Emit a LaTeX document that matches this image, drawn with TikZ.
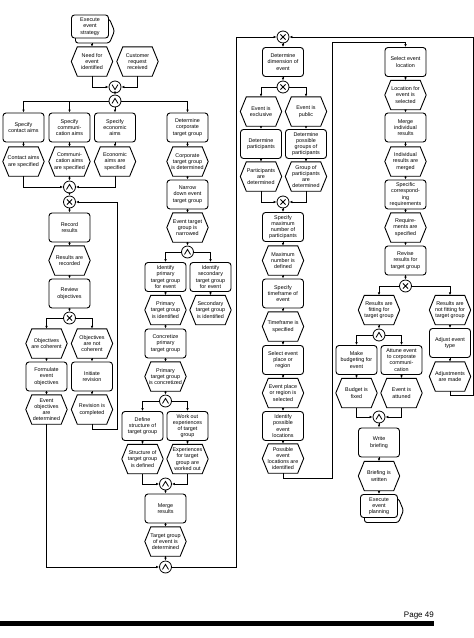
\documentclass[tikz,border=0pt]{standalone}
\usepackage{fontspec}
\setmainfont{Liberation Sans}
\usetikzlibrary{arrows.meta}
\tikzset{
  txt/.style={font=\fontsize{5.4}{6.2}\selectfont, align=center, inner sep=0.5pt},
  fnbox/.style={txt, draw, line width=0.9pt, rounded corners=3pt, minimum width=41pt, minimum height=29pt, fill=white},
  evbox/.style={txt, minimum width=41pt, minimum height=29pt},
  evline/.style={draw, line width=0.9pt, line join=miter, fill=white},
  conn/.style={circle, draw, line width=0.8pt, minimum size=12pt, inner sep=0pt, fill=white},
  andc/.style={conn, path picture={\draw[line width=0.8pt] ([shift={(-3pt,-2.4pt)}]path picture bounding box.center) -- ([shift={(0pt,2.6pt)}]path picture bounding box.center) -- ([shift={(3pt,-2.4pt)}]path picture bounding box.center);}},
  orc/.style={conn, path picture={\draw[line width=0.8pt] ([shift={(-3pt,2.4pt)}]path picture bounding box.center) -- ([shift={(0pt,-2.6pt)}]path picture bounding box.center) -- ([shift={(3pt,2.4pt)}]path picture bounding box.center);}},
  xorc/.style={conn, path picture={\draw[line width=0.8pt] ([shift={(-2.6pt,-2.6pt)}]path picture bounding box.center) -- ([shift={(2.6pt,2.6pt)}]path picture bounding box.center) ([shift={(-2.6pt,2.6pt)}]path picture bounding box.center) -- ([shift={(2.6pt,-2.6pt)}]path picture bounding box.center);}},
  flow/.style={line width=0.6pt, -{Latex[length=3pt,width=2.6pt]}},
}
\newcommand\FnNode[3]{\node[fnbox] (#1) at (#2) {#3};}
\newcommand\EvNode[3]{\node[evbox] (#1) at (#2) {};
  \draw[evline] (#1.west) -- ([xshift=6pt]#1.north west) -- ([xshift=-6pt]#1.north east) -- (#1.east) -- ([xshift=-6pt]#1.south east) -- ([xshift=6pt]#1.south west) -- cycle;
  \node[txt] at (#1.center) {#3};}
\newcommand\PPNode[3]{\coordinate (#1-c) at (#2);
  \draw[fill=white, line width=0.9pt, rounded corners=2.5pt] ([shift={(-14.5pt,7.5pt)}]#1-c) -- ([shift={(19.5pt,7.5pt)}]#1-c) -- ([shift={(24.5pt,-4.5pt)}]#1-c) -- ([shift={(19.5pt,-16.5pt)}]#1-c) -- ([shift={(-14.5pt,-16.5pt)}]#1-c) -- cycle;
  \coordinate (#1-b) at ([shift={(0pt,-16.5pt)}]#1-c);
  \node[fnbox, minimum width=37pt, minimum height=23pt] (#1) at (#2) {#3};}
\begin{document}
\begin{tikzpicture}[x=1pt,y=-1pt]
\useasboundingbox (0,0) rectangle (474,638);
% ---------- column 1 ----------
\PPNode{ees}{90,26.5}{Execute\\event\\strategy}
\EvNode{nfe}{92,61.5}{Need for\\event\\identified}
\EvNode{crr}{137.5,61.5}{Customer\\request\\received}
\node[orc] (or1) at (115,87) {};
\node[andc] (and1) at (115,101) {};
\FnNode{sca}{23.5,127.5}{Specify\\contact aims}
\FnNode{scm}{69.5,127.5}{Specify\\communi-\\cation aims}
\FnNode{sea}{115,127.5}{Specify\\economic\\aims}
\FnNode{dct}{187.5,127.5}{Determine\\corporate\\target group}
\EvNode{cas}{23.5,161.5}{Contact aims\\are specified}
\EvNode{cms}{69.5,161.5}{Communi-\\cation aims\\are specified}
\EvNode{eas}{115,161.5}{Economic\\aims are\\specified}
\EvNode{ctd}{187.5,161.5}{Corporate\\target group\\is determined}
\node[andc] (and2) at (69.5,187) {};
\node[xorc] (xor1) at (69.5,202) {};
\FnNode{rr}{69.5,227.5}{Record\\results}
\EvNode{rar}{69.5,260.5}{Results are\\recorded}
\FnNode{ro}{69.5,293.5}{Review\\objectives}
\node[xorc] (xor2) at (69.5,318) {};
\EvNode{oc}{46.5,343.5}{Objectives\\are coherent}
\EvNode{onc}{92,343.5}{Objectives\\are not\\coherent}
\FnNode{feo}{46.5,376.5}{Formulate\\event\\objectives}
\FnNode{ir}{92,376.5}{Initiate\\revision}
\EvNode{eod}{46.5,409.5}{Event\\objectives\\are\\determined}
\EvNode{ric}{92,409.5}{Revision is\\completed}
% ---------- column 2 ----------
\FnNode{ndt}{187.5,194.5}{Narrow\\down event\\target group}
\EvNode{etn}{187.5,227.5}{Event target\\group is\\narrowed}
\node[andc] (and3) at (187.5,252) {};
\FnNode{ipt}{165.5,277}{Identify\\primary\\target group\\for event}
\FnNode{ist}{210.5,277}{Identify\\secondary\\target group\\for event}
\EvNode{pti}{165.5,310}{Primary\\target group\\is identified}
\EvNode{sti}{210.5,310}{Secondary\\target group\\is identified}
\FnNode{cpt}{165.5,343.5}{Concretize\\primary\\target group}
\EvNode{ptc}{165.5,376.5}{Primary\\target group\\is concretized}
\node[andc] (and4) at (165.5,401) {};
\FnNode{dst}{142.5,426}{Define\\structure of\\target group}
\FnNode{wox}{187.5,426}{Work out\\experiences\\of target\\group}
\EvNode{std}{142.5,459}{Structure of\\target group\\is defined}
\EvNode{exg}{187.5,459}{Experiences\\for target\\group are\\worked out}
\node[andc] (and5) at (165.5,484) {};
\FnNode{mr}{165.5,508.5}{Merge\\results}
\EvNode{tgd}{165.5,541.5}{Target group\\of event is\\determined}
\node[andc] (and7) at (165.5,567) {};
% ---------- column 3 ----------
\node[xorc] (xor3) at (283,37) {};
\FnNode{dde}{283,62}{Determine\\dimension of\\event}
\node[xorc] (xor4) at (283,87) {};
\EvNode{eie}{261,111.5}{Event is\\exclusive}
\EvNode{eip}{306,111.5}{Event is\\public}
\FnNode{dp}{261,144}{Determine\\participants}
\FnNode{dpg}{306,144}{Determine\\possible\\groups of\\participants}
\EvNode{pad}{261,176.5}{Participants\\are\\determined}
\EvNode{gpd}{306,176.5}{Group of\\participants\\are\\determined}
\node[xorc] (xor5) at (283,202) {};
\FnNode{smn}{283,227}{Specify\\maximum\\number of\\participants}
\EvNode{mnd}{283,260.5}{Maximum\\number is\\defined}
\FnNode{stf}{283,293.5}{Specify\\timeframe of\\event}
\EvNode{tfs}{283,326.5}{Timeframe is\\specified}
\FnNode{sep}{283,360}{Select event\\place or\\region}
\EvNode{eps}{283,393}{Event place\\or region is\\selected}
\FnNode{ipl}{283,426}{Identify\\possible\\event\\locations}
\EvNode{pli}{283,458.5}{Possible\\event\\locations are\\identified}
% ---------- column 4 ----------
\FnNode{sel}{405.5,62}{Select event\\location}
\EvNode{lfs}{405.5,95}{Location for\\event is\\selected}
\FnNode{mir}{405.5,127.5}{Merge\\individual\\results}
\EvNode{irm}{405.5,161.5}{Individual\\results are\\merged}
\FnNode{scr}{405.5,194.5}{Specific\\correspond-\\ing\\requirements}
\EvNode{rqs}{405.5,227.5}{Require-\\ments are\\specified}
\FnNode{rrt}{405.5,260.5}{Revise\\results for\\target group}
\node[xorc] (xor6) at (405.5,286) {};
\EvNode{rft}{379,310}{Results are\\fitting for\\target group}
\EvNode{rnf}{450,310}{Results are\\not fitting for\\target group}
\FnNode{aet}{450,343}{Adjust event\\type}
\EvNode{adm}{450,376.5}{Adjustments\\are made}
\node[andc] (and8) at (379,335) {};
\FnNode{mbe}{356.5,360}{Make\\budgeting for\\event}
\FnNode{aec}{401.5,360}{Attune event\\to corporate\\communi-\\cation}
\EvNode{bif}{356.5,393}{Budget is\\fixed}
\EvNode{eia}{401.5,393}{Event is\\attuned}
\node[andc] (and9) at (379,417) {};
\FnNode{wb}{379,442.5}{Write\\briefing}
\EvNode{bw}{379,476}{Briefing is\\written}
\PPNode{eep}{379,506}{Execute\\event\\planning}
% ---------- straight flows ----------
\foreach \a/\b in {sca/cas, scm/cms, sea/eas, dct/ctd, ctd/ndt, ndt/etn, xor1/rr, rr/rar, rar/ro, ro/xor2,
  oc/feo, feo/eod, onc/ir, ir/ric, cms/and2, and2/xor1, etn/and3, ipt/pti, ist/sti, pti/cpt, cpt/ptc, ptc/and4,
  dst/std, wox/exg, and5/mr, mr/tgd, tgd/and7, xor3/dde, dde/xor4, eie/dp, dp/pad, eip/dpg, dpg/gpd,
  xor5/smn, smn/mnd, mnd/stf, stf/tfs, tfs/sep, sep/eps, eps/ipl, ipl/pli, sel/lfs, lfs/mir, mir/irm,
  irm/scr, scr/rqs, rqs/rrt, rrt/xor6, rnf/aet, aet/adm, rft/and8, mbe/bif, aec/eia, and9/wb, wb/bw, bw/eep, or1/and1, and1/sea}
  \draw[flow] (\a.south) -- (\b.north);
% ---------- splits and joins ----------
\draw[flow] (nfe.north |- ees-b) -- (nfe.north);
\draw[flow] (nfe.south) |- (or1.west);
\draw[flow] (crr.south) |- (or1.east);
\draw[flow] (and1.west) -| (sca.north);
\draw[flow] (scm.north |- and1.west) -- (scm.north);
\draw[flow] (and1.east) -| (dct.north);
\draw[flow] (cas.south) |- (and2.west);
\draw[flow] (eas.south) |- (and2.east);
\draw[flow] (xor2.west) -| (oc.north);
\draw[flow] (xor2.east) -| (onc.north);
\draw[flow] (ric.south) -- ++(0,5) -- ++(25,0) |- (xor1.east);
\draw[flow] (and3.west) -| (ipt.north);
\draw[flow] (and3.east) -| (ist.north);
\draw[flow] (and4.west) -| (dst.north);
\draw[flow] (and4.east) -| (wox.north);
\draw[flow] (std.south) |- (and5.west);
\draw[flow] (exg.south) |- (and5.east);
\draw[flow] (eod.south) |- (and7.west);
\coordinate (lb) at (236,567);
\coordinate (lt) at (236,37);
\draw[flow] (and7.east) -- (lb) -- (lt) -- (xor3.west);
\draw[flow] (xor4.west) -| (eie.north);
\draw[flow] (xor4.east) -| (eip.north);
\draw[flow] (pad.south) |- (xor5.west);
\draw[flow] (gpd.south) |- (xor5.east);
\coordinate (mb) at (332,478);
\coordinate (mt) at (332,42);
\draw[flow] (pli.south) |- (mb) -- (mt) -| (sel.north);
\draw[flow] (xor6.west) -| (rft.north);
\draw[flow] (xor6.east) -| (rnf.north);
\coordinate (rb) at (473,395);
\coordinate (rt) at (473,37);
\draw[flow] (adm.south) |- (rb) -- (rt) -- (xor3.east);
\draw[flow] (and8.west) -| (mbe.north);
\draw[flow] (and8.east) -| (aec.north);
\draw[flow] (bif.south) |- (and9.west);
\draw[flow] (eia.south) |- (and9.east);
% ---------- footer ----------
\node[anchor=south east, inner sep=0pt, font=\fontsize{8}{9}\selectfont] (pg) at (434,619.5) {Page 49};
\fill (0,620.5) rectangle (434,625.5);
\end{tikzpicture}
\end{document}
